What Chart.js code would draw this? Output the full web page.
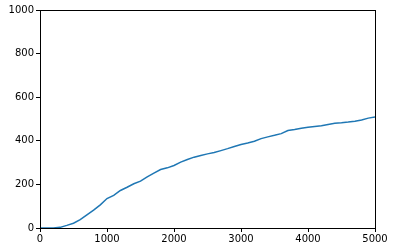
<!DOCTYPE html>
<html>
<head>
<meta charset="utf-8">
<script src="https://cdn.jsdelivr.net/npm/chart.js@4"></script>
<style>
  html, body { margin: 0; padding: 0; background: #fff; }
  #wrap { width: 394px; height: 252px; }
</style>
</head>
<body>
<div id="wrap"><canvas id="c"></canvas></div>
<script>
// values
var xs = [0, 100, 200, 300, 400, 500, 600, 700, 800, 900,
	1000, 1100, 1200, 1300, 1400, 1500, 1600, 1700, 1800, 1900,
	2000, 2100, 2200, 2300, 2400, 2500, 2600, 2700, 2800, 2900,
	3000, 3100, 3200, 3300, 3400, 3500, 3600, 3700, 3800, 3900,
	4000, 4100, 4200, 4300, 4400, 4500, 4600, 4700, 4800, 4900, 5000];
var ys = [0, 0, 0, 3, 12, 22, 38, 60, 82, 106,
	135, 150, 172, 187, 203, 215, 235, 252, 268, 276,
	287, 302, 314, 325, 333, 340, 346, 355, 364, 374,
	383, 390, 398, 410, 418, 425, 433, 447, 452, 458,
	462, 466, 469, 475, 481, 483, 486, 490, 495, 504, 509];
var xTicks = [0, 1000, 2000, 3000, 4000, 5000];
var yTicks = [0, 200, 400, 600, 800, 1000];

var points = xs.map(function (x, i) { return { x: x, y: ys[i] }; });

// draws the box round the plot area
var frame = {
	id: 'frame',
	afterDraw: function (chart) {
		var a = chart.chartArea, ctx = chart.ctx;
		ctx.save();
		ctx.strokeStyle = '#000';
		ctx.lineWidth = 1;
		ctx.strokeRect(Math.round(a.left) + 0.5, Math.round(a.top) + 0.5,
			Math.round(a.right - a.left), Math.round(a.bottom - a.top));
		ctx.restore();
	}
};

Chart.defaults.font.family = 'DejaVu Sans';
Chart.defaults.font.size = 10;
Chart.defaults.color = '#000';

function plain(v) { return String(v); }

new Chart(document.getElementById('c'), {
	type: 'line',
	data: {
		datasets: [{
			data: points,
			borderColor: '#1f77b4',
			borderWidth: 1.5,
			pointRadius: 0,
			tension: 0,
			fill: false
		}]
	},
	options: {
		responsive: true,
		maintainAspectRatio: false,
		animation: false,
		layout: { padding: { top: 10, right: 19, left: 0, bottom: 0 } },
		plugins: { legend: { display: false }, tooltip: { enabled: false } },
		scales: {
			x: {
				type: 'linear', min: 0, max: 5000,
				afterBuildTicks: function (s) { s.ticks = xTicks.map(function (v) { return { value: v }; }); },
				afterFit: function (s) { s.height = 24; },
				grid: { drawOnChartArea: false, tickLength: 4, tickColor: '#000' },
				border: { color: '#000' },
				ticks: { padding: 1, maxRotation: 0, callback: plain }
			},
			y: {
				min: 0, max: 1000,
				afterBuildTicks: function (s) { s.ticks = yTicks.map(function (v) { return { value: v }; }); },
				afterFit: function (s) { s.width = 40; },
				grid: { drawOnChartArea: false, tickLength: 4, tickColor: '#000' },
				border: { color: '#000' },
				ticks: { padding: 2, callback: plain }
			}
		}
	},
	plugins: [frame]
});
</script>
</body>
</html>
